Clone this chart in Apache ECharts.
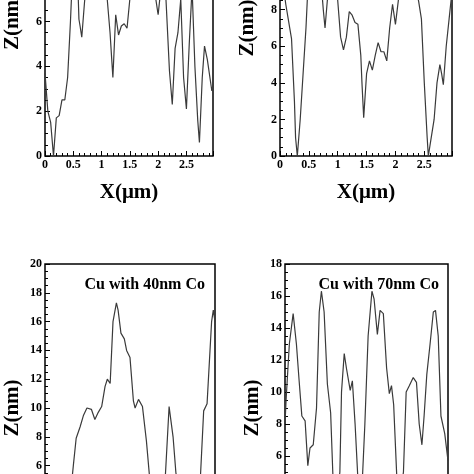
<!DOCTYPE html>
<html><head><meta charset="utf-8">
<script src="https://cdn.jsdelivr.net/npm/echarts@6/dist/echarts.min.js"></script>
<style>html,body{margin:0;padding:0;background:#fff}#c{width:474px;height:474px}</style>
</head><body><div id="c"></div>
<script>
const xA = [0,0.05,0.1,0.15,0.17,0.2,0.25,0.3,0.35,0.4,0.45,0.5,0.55,0.6,0.62,0.65,0.7,0.8,0.9,1.0,1.1,1.15,1.18,1.2,1.25,1.3,1.35,1.4,1.45,1.5,1.6,1.7,1.8,1.9,2.0,2.05,2.1,2.2,2.25,2.3,2.35,2.4,2.45,2.5,2.55,2.6,2.65,2.7,2.73,2.78,2.82,2.87,2.95];
const yA = [3.7,2,1.5,0,0,1.7,1.8,2.5,2.5,3.5,6,9,10,6.1,5.8,5.3,6.9,9.5,10.5,9,7,5.5,4.3,3.5,6.3,5.4,5.8,5.9,5.7,7,9.5,10.5,9,8,6.3,7.5,9,3.8,2.3,4.8,5.5,7,3.5,2.1,5,7.5,4,1.6,0.6,3.5,4.9,4.3,2.9];
const xB = [0,0.05,0.1,0.2,0.25,0.27,0.3,0.32,0.35,0.4,0.45,0.48,0.5,0.6,0.7,0.75,0.78,0.82,0.88,0.95,1.0,1.05,1.1,1.15,1.2,1.25,1.3,1.35,1.4,1.42,1.45,1.5,1.55,1.6,1.65,1.7,1.75,1.8,1.85,1.9,1.95,2.0,2.05,2.1,2.2,2.3,2.35,2.4,2.45,2.5,2.55,2.57,2.62,2.67,2.72,2.77,2.8,2.83,2.88,2.93,2.98];
const yB = [10,9.5,8.3,6.4,3,1,0,0,2,4.5,7,9,10,11,10,8,7,8.5,10,10.5,8.5,6.5,5.8,6.5,7.9,7.7,7.3,7.2,5.5,4,2.1,4.5,5.2,4.7,5.5,6.2,5.7,5.7,5.2,7,8.3,7.2,8.5,10,11,10,9,8.5,7.5,4,1,0,1,2,4,5,4.5,3.9,6,7.5,9];
const xC = [0.3,0.45,0.5,0.55,0.62,0.68,0.74,0.82,0.88,0.94,1.0,1.06,1.1,1.15,1.2,1.26,1.29,1.34,1.4,1.44,1.5,1.56,1.59,1.65,1.72,1.79,1.85,1.95,2.05,2.12,2.19,2.26,2.31,2.45,2.6,2.74,2.8,2.86,2.94,2.97,3.0];
const yC = [2,4,6,7.9,8.7,9.5,10,9.9,9.2,9.7,10.1,11.5,12,11.7,16,17.3,16.8,15.2,14.8,14,13.5,10.5,10,10.6,10.1,7.7,5,2.5,3,5,10.1,8,5.5,2.5,3,5,9.8,10.3,16,16.8,16];
const xD = [0,0.02,0.08,0.15,0.21,0.26,0.31,0.37,0.42,0.46,0.52,0.58,0.63,0.67,0.72,0.78,0.84,0.89,0.95,1.01,1.04,1.09,1.13,1.2,1.24,1.29,1.35,1.41,1.47,1.53,1.6,1.64,1.7,1.75,1.81,1.87,1.92,1.96,2.0,2.06,2.12,2.18,2.23,2.29,2.36,2.42,2.47,2.52,2.56,2.61,2.67,2.73,2.77,2.82,2.87,2.94,3.0];
const yD = [8,9.5,13,14.9,13,10.7,8.5,8.2,5.4,6.5,6.7,9,15,16.3,15,10.5,8.7,4,3,5,10,12.4,11.5,10.1,10.7,8,4,3.5,8,13.5,16.3,15.8,13.6,15.1,14.9,11.5,9.9,10.4,9.2,4.5,3.5,5,10,10.4,10.9,10.6,8,6.7,8.5,11.1,13,15,15.1,13.5,8.5,7.4,5.7];
const titles = ['', '', 'Cu with 40nm Co', 'Cu with 70nm Co'];

const pairs = (xs, ys) => xs.map((x, i) => [x, ys[i]]);
const font = 'Liberation Serif';
const grids = [
  {left:45, top:-113, width:168, height:269},
  {left:280, top:-100, width:172, height:256},
  {left:45, top:264, width:170, height:288},
  {left:285, top:264, width:163, height:288}
].map(g => Object.assign(g, {show:true, borderColor:'#000', borderWidth:1.5, backgroundColor:'transparent', outerBoundsMode:'none', containLabel:false}));
const xmax = [2.97, 2.98, 3, 3];
const ymax = [12, 14, 20, 18];
const lbl = {color:'#000', fontFamily:font, fontWeight:'bold', fontSize:12, margin:3};
const xAxis = grids.map((g, i) => ({
  type:'value', gridIndex:i, min:0, max:xmax[i], interval:0.5,
  axisLine:{show:false}, splitLine:{show:false},
  axisTick:{inside:true, length:5, lineStyle:{color:'#000'}},
  minorTick:{show:true, splitNumber:5, length:3, lineStyle:{color:'#000'}},
  axisLabel:Object.assign({}, lbl, {formatter:v => v > 2.9 ? '' : String(v), showMaxLabel:false}),
  name:'X(μm)', nameLocation:'middle', nameGap:26,
  nameTextStyle:{color:'#000', fontFamily:font, fontWeight:'bold', fontSize:21}
}));
const yAxis = grids.map((g, i) => ({
  type:'value', gridIndex:i, min:0, max:ymax[i], interval:2,
  axisLine:{show:false}, splitLine:{show:false},
  axisTick:{inside:true, length:5, lineStyle:{color:'#000'}},
  minorTick:{show:true, splitNumber:4, length:3, lineStyle:{color:'#000'}},
  axisLabel:lbl,
  name:'Z(nm)', nameLocation:'middle', nameGap:22,
  nameTextStyle:{color:'#000', fontFamily:font, fontWeight:'bold', fontSize:21}
}));
const data = [pairs(xA,yA), pairs(xB,yB), pairs(xC,yC), pairs(xD,yD)];
const series = data.map((d, i) => ({
  type:'line', xAxisIndex:i, yAxisIndex:i, data:d, showSymbol:false, symbol:'none',
  lineStyle:{color:'#3a3a3a', width:1.2}, clip:true, animation:false
}));
const title = titles.map((t, i) => ({
  text:t, right: i === 2 ? 474-210 : 474-444, top:272,
  textStyle:{color:'#000', fontFamily:font, fontWeight:'bold', fontSize:16}
}));
const chart = echarts.init(document.getElementById('c'));
chart.setOption({animation:false, backgroundColor:'#fff', grid:grids, xAxis, yAxis, series, title});
</script></body></html>
